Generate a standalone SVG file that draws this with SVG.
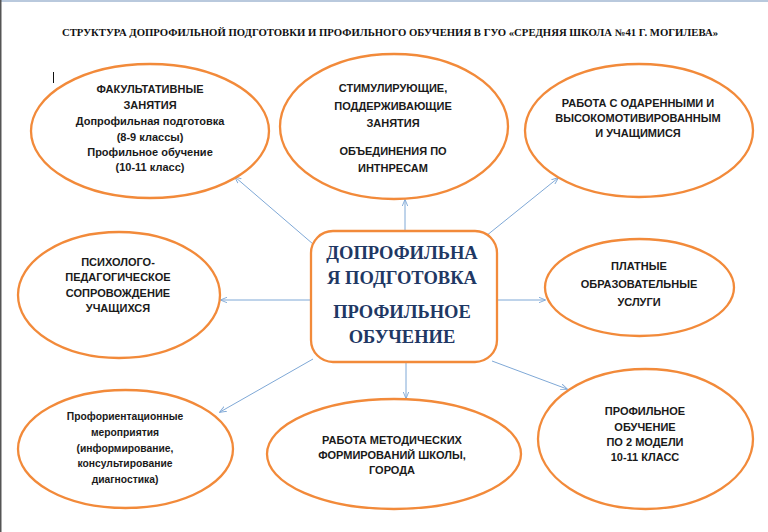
<svg xmlns="http://www.w3.org/2000/svg" width="768" height="532" viewBox="0 0 768 532">
<defs>
<style>
.n{fill:#fff;stroke:#F28A3A;stroke-width:2.3}
.t{font-family:"Liberation Sans",Arial,sans-serif;font-weight:bold;font-size:11px;fill:#1a1a1a;text-anchor:middle;dominant-baseline:central}
.s{font-size:10.3px}
.c{font-family:"Liberation Serif","Times New Roman",serif;font-weight:bold;font-size:18.5px;fill:#1F3864;text-anchor:middle;dominant-baseline:central}
.title{font-family:"Liberation Serif","Times New Roman",serif;font-weight:bold;font-size:10px;fill:#111;dominant-baseline:central}
.l{stroke:#7FA8D6;stroke-width:1;fill:none;marker-end:url(#a)}
</style>
<marker id="a" viewBox="0 0 10 10" refX="9" refY="5" markerWidth="7" markerHeight="7" orient="auto" markerUnits="userSpaceOnUse">
<path d="M0,1 L10,5 L0,9" fill="none" stroke="#7FA8D6" stroke-width="1.3"/>
</marker>
</defs>
<rect x="0" y="0" width="768" height="532" fill="#fff"/>
<rect x="0" y="0" width="768" height="2" fill="#B9C9DD"/>
<rect x="0" y="0" width="1.5" height="532" fill="#555"/>
<text class="title" x="62" y="32" textLength="656" lengthAdjust="spacingAndGlyphs">СТРУКТУРА ДОПРОФИЛЬНОЙ ПОДГОТОВКИ И ПРОФИЛЬНОГО ОБУЧЕНИЯ В ГУО «СРЕДНЯЯ ШКОЛА №41 Г. МОГИЛЕВА»</text>
<line x1="53.5" y1="72" x2="53.5" y2="83" stroke="#111" stroke-width="1"/>
<g id="connectors">
<line class="l" x1="405" y1="231" x2="405" y2="200"/>
<line class="l" x1="313" y1="244" x2="235" y2="177"/>
<line class="l" x1="486" y1="236" x2="558" y2="178"/>
<line class="l" x1="311" y1="300" x2="221" y2="300"/>
<line class="l" x1="497" y1="300" x2="545" y2="300"/>
<line class="l" x1="313" y1="359" x2="220" y2="412"/>
<line class="l" x1="406" y1="362" x2="406" y2="398"/>
<line class="l" x1="492" y1="361" x2="567" y2="389"/>
</g>
<g id="center">
<rect class="n" x="311" y="231" width="186" height="131" rx="22"/>
<text class="c" x="402" y="253">ДОПРОФИЛЬНА</text>
<text class="c" x="402" y="278">Я ПОДГОТОВКА</text>
<text class="c" x="402" y="312">ПРОФИЛЬНОЕ</text>
<text class="c" x="402" y="337">ОБУЧЕНИЕ</text>
</g>
<g id="n1">
<ellipse class="n" cx="150" cy="131" rx="119" ry="67"/>
<text class="t" x="150" y="89">ФАКУЛЬТАТИВНЫЕ</text>
<text class="t" x="150" y="105">ЗАНЯТИЯ</text>
<text class="t" x="150" y="121">Допрофильная подготовка</text>
<text class="t" x="150" y="137">(8-9 классы)</text>
<text class="t" x="150" y="152">Профильное обучение</text>
<text class="t" x="150" y="167">(10-11 класс)</text>
</g>
<g id="n2">
<ellipse class="n" cx="394" cy="126.5" rx="114" ry="72.5"/>
<text class="t" x="393" y="88">СТИМУЛИРУЮЩИЕ,</text>
<text class="t" x="393" y="106">ПОДДЕРЖИВАЮЩИЕ</text>
<text class="t" x="393" y="123">ЗАНЯТИЯ</text>
<text class="t" x="393" y="151">ОБЪЕДИНЕНИЯ ПО</text>
<text class="t" x="393" y="168">ИНТНРЕСАМ</text>
</g>
<g id="n3">
<ellipse class="n" cx="639" cy="130.5" rx="114" ry="66.5"/>
<text class="t" x="638" y="103">РАБОТА С ОДАРЕННЫМИ И</text>
<text class="t" x="638" y="118">ВЫСОКОМОТИВИРОВАННЫМ</text>
<text class="t" x="638" y="133">И УЧАЩИМИСЯ</text>
</g>
<g id="n4">
<ellipse class="n" cx="119" cy="295" rx="101" ry="63"/>
<text class="t" x="118" y="262">ПСИХОЛОГО-</text>
<text class="t" x="118" y="277">ПЕДАГОГИЧЕСКОЕ</text>
<text class="t" x="118" y="293">СОПРОВОЖДЕНИЕ</text>
<text class="t" x="118" y="308">УЧАЩИХСЯ</text>
</g>
<g id="n5">
<ellipse class="n" cx="639.5" cy="287.5" rx="94.5" ry="48.5"/>
<text class="t" x="639" y="266">ПЛАТНЫЕ</text>
<text class="t" x="639" y="284">ОБРАЗОВАТЕЛЬНЫЕ</text>
<text class="t" x="639" y="302">УСЛУГИ</text>
</g>
<g id="n6">
<ellipse class="n" cx="125.5" cy="449" rx="107.5" ry="59"/>
<text class="t s" x="125" y="416">Профориентационные</text>
<text class="t s" x="125" y="432">мероприятия</text>
<text class="t s" x="125" y="448">(информирование,</text>
<text class="t s" x="125" y="463">консультирование</text>
<text class="t s" x="125" y="479">диагностика)</text>
</g>
<g id="n7">
<ellipse class="n" cx="394" cy="454" rx="127" ry="55"/>
<text class="t" x="392" y="440">РАБОТА МЕТОДИЧЕСКИХ</text>
<text class="t" x="392" y="455">ФОРМИРОВАНИЙ  ШКОЛЫ,</text>
<text class="t" x="392" y="470">ГОРОДА</text>
</g>
<g id="n8">
<ellipse class="n" cx="645.5" cy="439" rx="107.5" ry="70"/>
<text class="t" x="645" y="411">ПРОФИЛЬНОЕ</text>
<text class="t" x="645" y="427">ОБУЧЕНИЕ</text>
<text class="t" x="645" y="442">ПО 2 МОДЕЛИ</text>
<text class="t" x="645" y="457">10-11 КЛАСС</text>
</g>
</svg>
